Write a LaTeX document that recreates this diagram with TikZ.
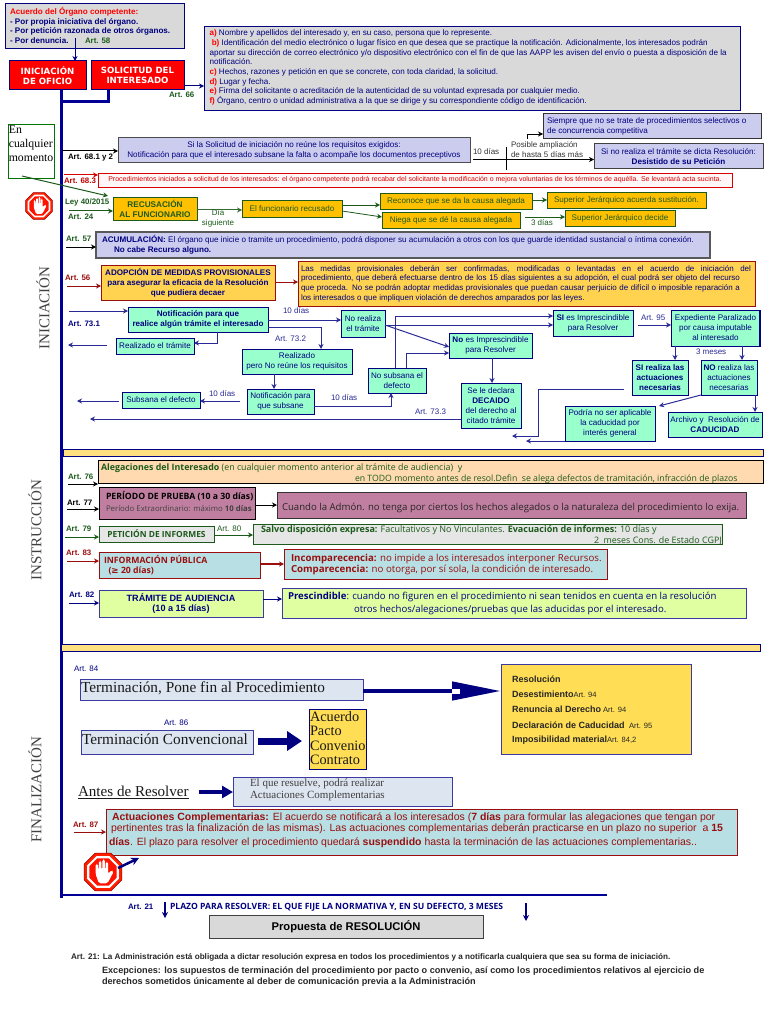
\documentclass[tikz,border=0pt]{standalone}
\usepackage{fontspec}
\setmainfont{Liberation Sans}
\newfontfamily\ser{Liberation Serif}
\newfontfamily\verd{DejaVu Sans}
\newfontfamily\tah{Open Sans}
\usetikzlibrary{arrows.meta}
\definecolor{nv}{HTML}{000080}
\definecolor{spn}{HTML}{000099}
\definecolor{blu}{HTML}{2A2A96}
\definecolor{lav}{HTML}{CCCCEE}
\definecolor{gr}{HTML}{D9D9D9}
\definecolor{dg}{HTML}{1C5A1C}
\definecolor{dr}{HTML}{990F0F}
\definecolor{mint}{HTML}{99FFCC}
\definecolor{amb}{HTML}{FFC000}
\definecolor{prov}{HTML}{FFD34F}
\definecolor{peach}{HTML}{FFDAB0}
\definecolor{mau}{HTML}{C07FA0}
\definecolor{teal2}{HTML}{B8E0E4}
\definecolor{lime2}{HTML}{E0FFA0}
\definecolor{ybar}{HTML}{FFE080}
\definecolor{tb}{HTML}{DDE5F0}
\definecolor{yel}{HTML}{FFDD55}
\definecolor{gl}{HTML}{E6E6E6}
\definecolor{bd}{HTML}{3A3AA0}
\newcommand{\fz}[2]{\fontsize{#1}{#2}\selectfont}
\newcommand{\bxn}[7]{\pgfmathsetmacro\bW{#5-#3}\pgfmathsetmacro\bH{#6-#4}%
  \node[anchor=north west,outer sep=0pt,inner sep=0pt,align=center,minimum width=\bW pt,minimum height=\bH pt,#2] (#1) at (#3,#4) {#7};}
\newcommand{\lb}[5]{\node[anchor=west,inner sep=0pt,outer sep=0pt,align=left,#2] (#1) at (#3,#4) {#5};}
\newcommand{\stopsign}[3]{%
 \begin{scope}[shift={(#1,#2)},x=#3pt,y=#3pt]
  \fill[draw=red!60!black,fill=red!75!orange,line width=.5pt] (22.5:1) -- (67.5:1) -- (112.5:1) -- (157.5:1) -- (202.5:1) -- (247.5:1) -- (292.5:1) -- (337.5:1) -- cycle;
  \fill[white] (22.5:.84) -- (67.5:.84) -- (112.5:.84) -- (157.5:.84) -- (202.5:.84) -- (247.5:.84) -- (292.5:.84) -- (337.5:.84) -- cycle;
  \fill[red!85!orange] (22.5:.72) -- (67.5:.72) -- (112.5:.72) -- (157.5:.72) -- (202.5:.72) -- (247.5:.72) -- (292.5:.72) -- (337.5:.72) -- cycle;
  \fill[white,rounded corners=.08pt*#3] (-.36,-.1) -- (-.36,.4) -- (-.24,.4) -- (-.24,.1) -- (-.2,.1) -- (-.2,.55) -- (-.08,.55) -- (-.08,.12) -- (-.03,.12) -- (-.03,.62) -- (.09,.62) -- (.09,.12) -- (.13,.12) -- (.13,.5) -- (.25,.5) -- (.25,-.1) -- (.42,.1) -- (.52,.02) -- (.22,-.55) -- (-.2,-.55) -- cycle;
 \end{scope}}
\tikzset{
 ar/.style={-{Stealth[length=5pt,width=5pt]},line width=1pt},
 fb/.style={draw=nv,line width=.9pt,fill=#1},
 art/.style={font=\fz{7.9}{9}\bfseries,text=#1},
 mb/.style={draw=nv,line width=.9pt,fill=mint,text=nv,font=\fz{8.1}{10}},
 tx/.style={font=\fz{8.1}{9.7},text=nv},
 sm/.style={font=\fz{8}{9},text=#1}
}
\begin{document}
\begin{tikzpicture}[x=1pt,y=-1pt]
\useasboundingbox (0,0) rectangle (768,1024);
% top
\bxn{acuerdo}{fb=gr}{5}{3}{184}{48}{}
\lb{acuerdot}{font=\fz{8.1}{9.7}\bfseries,text=nv}{10}{25.5}{\textcolor{red}{Acuerdo del Órgano competente:}\\- Por propia iniciativa del órgano.\\- Por petición razonada de otros órganos.\\- Por denuncia.}
\lb{a58}{art=dg}{85}{41}{Art. 58}
\bxn{ini}{draw=nv,line width=1pt,fill=red,text=white,font=\fz{8.6}{10}\verd\bfseries}{9}{61}{86}{90}{INICIACIÓN\\DE OFICIO}
\bxn{sol}{draw=nv,line width=1pt,fill=red,text=white,font=\fz{8.6}{10}\verd\bfseries}{91}{61}{184}{90}{SOLICITUD DEL\\INTERESADO}
\coordinate (acs) at (75,38);
\draw[ar,nv] (acs) -- (ini.north -| acs);
\bxn{req}{fb=gr}{204}{26}{740}{110}{}
\lb{reqt}{tx}{209.5}{67.5}{\textcolor{red}{\bfseries a)} Nombre y apellidos del interesado y, en su caso, persona que lo represente.\\
\ \textcolor{red}{\bfseries b)} Identificación del medio electrónico o lugar físico en que desea que se practique la notificación. Adicionalmente, los interesados podrán\\
aportar su dirección de correo electrónico y/o dispositivo electrónico con el fin de que las AAPP les avisen del envío o puesta a disposición de la\\
notificación.\\
\textcolor{red}{\bfseries c)} Hechos, razones y petición en que se concrete, con toda claridad, la solicitud.\\
\textcolor{red}{\bfseries d)} Lugar y fecha.\\
\textcolor{red}{\bfseries e)} Firma del solicitante o acreditación de la autenticidad de su voluntad expresada por cualquier medio.\\
\textcolor{red}{\bfseries f)} Órgano, centro o unidad administrativa a la que se dirige y su correspondiente código de identificación.}
\draw[ar,nv] (sol.east |- 0,86) -- (req.west |- 0,86);
\lb{a66}{art=dg}{169}{95}{Art. 66}
% spine
\coordinate (spe) at (61,898);
\coordinate (lineE) at (607,895);
\draw[spn,line width=3pt] (ini.south -| spe) -- (spe);
\draw[spn,line width=3pt] (sol.south -| 108,0) -- (108,102) -- (61,102);
\draw[spn,line width=2.5pt] (spe |- lineE) -- (lineE);
% cualquier
\bxn{cual}{draw=green!45!black,line width=.7pt,fill=white}{8}{124}{54}{178}{}
\lb{cualt}{font=\ser\fz{11.8}{13.7}}{8.8}{143.5}{En\\cualquier\\momento}
\coordinate (cs) at (22,176);
\draw[dg,ar] (cs) -- (108,196);
% 68
\bxn{s68}{draw=black!70,line width=1pt,fill=lav,text=nv,font=\fz{8.1}{10}}{118}{138}{470}{163}{Si la Solicitud de iniciación no reúne los requisitos exigidos:\\Notificación para que el interesado subsane la falta o acompañe los documentos preceptivos}
\coordinate (p68) at (62,151);
\draw[ar,black] (p68) -- (s68.west |- p68);
\lb{a68}{art=black}{68}{158}{Art. 68.1 y 2}
\lb{d10a}{sm=black!80}{473}{152}{10 días}
\bxn{desis}{draw=black!75,line width=1pt,fill=lav,text=nv,font=\fz{8.1}{10}}{594}{144}{763}{169}{Si no realiza el trámite se dicta Resolución:\\\textbf{Desistido de su Petición}}
\bxn{siemp}{draw=black!80,line width=1pt,fill=lav}{543}{114}{761}{139}{}
\lb{siempt}{font=\fz{8.1}{9.2},text=nv}{547}{126.5}{Siempre que no se trate de procedimientos selectivos o\\de concurrencia competitiva}
\coordinate (l10) at (473,159.5);
\draw[black,ar,line width=.8pt] (l10) -- (desis.west |- l10);
\draw[black,line width=.8pt] (506,147) -- (506,170);
\coordinate (pel) at (527,139);
\draw[black,ar,line width=.8pt] (pel) -- (527,134) -- (siemp.west |- 0,134);
\lb{posi}{font=\fz{8}{10},text=black!80}{511}{150}{Posible ampliación\\de hasta 5 días más}
% 68.3
\bxn{r68}{draw=red!85!black,line width=.8pt,fill=red!3,text=red!85!black,font=\fz{7}{8}}{98}{173}{732}{187}{Procedimientos iniciados a solicitud de los interesados: el órgano competente podrá recabar del solicitante la modificación o mejora voluntarias de los términos de aquélla. Se levantará acta sucinta.}
\coordinate (pr68) at (64,175);
\draw[ar,red!85!black] (pr68) -- (r68.west |- pr68);
\lb{a683}{art=red!75!black}{64}{181}{Art. 68.3}
\stopsign{39}{206}{14.5}
% recusacion
\lb{ley}{art=dg}{65}{202}{Ley 40/2015}
\lb{a24}{art=dg}{68}{217}{Art. 24}
\bxn{recus}{draw=dg,line width=.9pt,fill=amb,text=dg,font=\fz{8.2}{10}\bfseries}{113}{197}{197}{220}{RECUSACIÓN\\AL FUNCIONARIO}
\coordinate (p24) at (69,211);
\draw[ar,dg] (p24) -- (recus.west |- p24);
\bxn{frec}{draw=dg,line width=.9pt,fill=amb,text=dg,font=\fz{8.1}{10}}{242}{200}{342}{217}{El funcionario recusado}
\draw[ar,dg!90] (recus.east |- 0,210) -- (frec.west |- 0,210);
\node[font=\fz{8}{9.5},text=dg,align=center,inner sep=0pt] (diasig) at (218,218.5) {Día\\siguiente};
\bxn{recon}{draw=dg,line width=.9pt,fill=amb,text=dg,font=\fz{8.1}{10}}{380}{193}{532}{209}{Reconoce que se da la causa alegada}
\bxn{niega}{draw=dg,line width=.9pt,fill=amb,text=dg,font=\fz{8.1}{10}}{382}{212}{520}{228}{Niega que se dé la causa alegada}
\bxn{supa}{draw=dg,line width=.9pt,fill=amb,text=dg,font=\fz{8.1}{10}}{547}{192}{706}{208}{Superior Jerárquico acuerda sustitución.}
\bxn{supd}{draw=dg,line width=.9pt,fill=amb,text=dg,font=\fz{8.1}{10}}{565}{210}{675}{226}{Superior Jerárquico decide}
\draw[ar,dg,line width=.8pt] (frec.east |- 0,205) -- (recon.west |- 0,205);
\draw[ar,dg,line width=.8pt] (frec.east |- 0,211) -- (niega.west |- 0,217);
\draw[ar,dg,line width=.8pt] (recon.east |- 0,200) -- (supa.west |- 0,200);
\coordinate (p3d) at (525,217);
\draw[ar,dg,line width=.8pt] (p3d) -- (supd.west |- p3d);
\lb{d3}{sm=dg}{531}{223}{3 días}
% acumulacion
\lb{a57}{art=dg}{66}{239}{Art. 57}
\bxn{acum}{draw=black!65,line width=1.2pt,fill=lav}{96}{232}{710}{258}{}
\lb{acumt}{font=\fz{8.1}{10},text=nv}{102}{245}{\textbf{ACUMULACIÓN:} El órgano que inicie o tramite un procedimiento, podrá disponer su acumulación a otros con los que guarde identidad sustancial o íntima conexión.\\\hspace*{12pt}\textbf{No cabe Recurso alguno.}}
\coordinate (p57) at (66,247);
\draw[ar,black] (p57) -- (acum.west |- p57);
% medidas
\lb{a56}{art=dr}{65}{278}{Art. 56}
\bxn{adop}{draw=dr,line width=.9pt,fill=prov,text=nv,font=\fz{8.1}{10}\bfseries}{101}{265}{275}{300}{ADOPCIÓN DE MEDIDAS PROVISIONALES\\para asegurar la eficacia de la Resolución\\que pudiera decaer}
\coordinate (p56) at (67,286);
\draw[ar,dr] (p56) -- (adop.west |- p56);
\bxn{medt}{draw=dr,line width=.9pt,fill=prov}{298}{261}{755}{306}{}
\lb{medtt}{font=\fz{8}{9.7},text=nv}{301}{283.5}{\makebox[450pt][s]{Las medidas provisionales deberán ser confirmadas, modificadas o levantadas en el acuerdo de iniciación del}\\
\makebox[439pt][s]{procedimiento, que deberá efectuarse dentro de los 15 días siguientes a su adopción, el cual podrá ser objeto del recurso}\\
\makebox[439pt][s]{que proceda. No se podrán adoptar medidas provisionales que puedan causar perjuicio de difícil o imposible reparación a}\\
los interesados o que impliquen violación de derechos amparados por las leyes.}
\draw[ar,dr] (adop.east |- 0,282) -- (medt.west |- 0,282);
% tramite
\bxn{noti}{mb,font=\fz{8.1}{10}\bfseries}{128}{307}{268}{332}{Notificación para que\\realice algún trámite el interesado}
\coordinate (p731) at (69,311);
\draw[ar,blu] (p731) -- (noti.west |- p731);
\lb{a731}{art=nv}{68}{324}{Art. 73.1}
\bxn{reali}{mb}{116}{338}{194}{354}{Realizado el trámite}
\draw[ar,blu] (217,332) -- (217,343) -- (reali.east |- 0,343);
\coordinate (prl) at (107,345);\coordinate (prle) at (68,345);
\draw[ar,blu] (prl) -- (prle);
\bxn{nore}{mb}{341}{310}{385}{337}{No realiza\\el trámite}
\draw[ar,blu] (noti.east |- 0,320) -- (nore.west |- 0,320);
\lb{d10b}{sm=blu}{283}{311}{10 días}
\lb{a732}{sm=blu}{275}{339}{Art. 73.2}
\bxn{rnr}{mb}{242}{349}{352}{374}{Realizado\\pero No reúne los requisitos}
\draw[ar,blu] (noti.east |- 0,327) -- (321,327) -- (rnr.north -| 321,0);
\bxn{nsub}{mb}{247}{389}{314}{414}{Notificación para\\que subsane}
\draw[ar,blu] (rnr.south -| 274,0) -- (nsub.north -| 274,0);
\bxn{subd}{mb}{122}{392}{200}{408}{Subsana el defecto}
\coordinate (pns) at (240,401);
\draw[ar,blu] (pns) -- (subd.east |- pns);
\lb{d10c}{sm=blu}{209}{394}{10 días}
\coordinate (psb) at (119,401);\coordinate (psbe) at (77,401);
\draw[ar,blu] (psb) -- (psbe);
\bxn{nosub}{mb}{368}{368}{426}{393}{No subsana el\\defecto}
\draw[ar,blu] (nsub.east |- 0,406) -- (391,406) -- (nosub.south -| 391,0);
\lb{d10d}{sm=blu}{331}{398}{10 días}
\bxn{sies}{mb}{553}{310}{633}{336}{\textbf{SI} es Imprescindible\\para Resolver}
\bxn{noes}{mb}{449}{333}{532}{358}{\textbf{No} es Imprescindible\\para Resolver}
\draw[ar,blu] (nore.east |- 0,325) -- (sies.west |- 0,325);
\draw[ar,blu] (nore.east |- 0,325) -- (noes.west |- 0,347);
\draw[ar,blu] (nosub.north -| 395,0) -- (395,316) -- (sies.west |- 0,316);
\draw[ar,blu] (nosub.north -| 406,0) -- (406,353) -- (noes.west |- 0,353);
\bxn{decai}{mb}{461}{383}{521}{428}{Se le declara\\\textbf{DECAIDO}\\del derecho al\\citado trámite}
\draw[ar,blu] (noes.south -| 492,0) -- (decai.north -| 492,0);
\coordinate (e733) at (90,419);
\draw[ar,blu] (decai.west |- e733) -- (e733);
\lb{a733}{sm=blu}{415}{412}{Art. 73.3}
\bxn{expe}{mb}{671}{310}{760}{346}{Expediente Paralizado\\por causa imputable\\al interesado}
\draw[nv,line width=1.6pt] (expe.north east) -- (expe.south east);
\coordinate (pe95) at (638,325);
\draw[ar,blu] (pe95) -- (expe.west |- pe95);
\lb{a95}{sm=blu}{641}{318}{Art. 95}
\bxn{sirea}{mb,font=\fz{8.1}{10}\bfseries}{632}{360}{688}{395}{SI realiza las\\actuaciones\\necesarias}
\bxn{norea}{mb}{701}{360}{757}{395}{\textbf{NO} realiza las\\actuaciones\\necesarias}
\draw[ar,blu] (expe.south -| 675,0) -- (sirea.north -| 675,0);
\draw[ar,blu] (expe.south -| 742,0) -- (norea.north -| 742,0);
\lb{m3}{sm=blu}{696}{352}{3 meses}
\bxn{podr}{mb}{565}{406}{655}{441}{Podría no ser aplicable\\la caducidad por\\interés general}
\bxn{arch}{mb}{668}{412}{762}{437}{Archivo y\ \ Resolución de\\\textbf{CADUCIDAD}}
\draw[ar,blu] (norea.south -| 701,0) -- (podr.north -| 659,0);
\draw[ar,blu] (norea.south -| 755,0) -- (arch.north -| 755,0);
\coordinate (pp1) at (624,389);\coordinate (pp2) at (512,436);
\draw[ar,blu] (pp1) -- (538,389) -- (538,436) -- (pp2);
\coordinate (pp3) at (526,441);
\draw[ar,blu] (podr.south west) -- (pp3);
% bars
\bxn{bar1}{draw=nv,line width=.8pt,fill=ybar}{63}{449}{763}{456}{}
\bxn{bar2}{draw=nv,line width=.8pt,fill=ybar}{61}{644}{760}{651}{}
% instruccion
\bxn{aleg}{draw=black,line width=.8pt,fill=peach}{98}{460}{763}{483}{}
\lb{alegt}{font=\tah\fz{8.85}{9},text=dg}{101}{468}{\textbf{Alegaciones del Interesado} (en cualquier momento anterior al trámite de audiencia)\ \ y}
\lb{alegu}{font=\tah\fz{8.7}{9},text=dg}{355}{479}{en TODO momento antes de resol.Defin\ \ se alega defectos de tramitación, infracción de plazos}
\lb{a76}{art=dg}{68}{477}{Art. 76}
\coordinate (p76) at (68,484);
\draw[ar,black] (p76) -- (aleg.west |- p76);
\bxn{peri}{draw=black,line width=.9pt,fill=mau}{99}{487}{255}{519}{}
\lb{perit}{font=\tah\fz{8.7}{9}\bfseries,text=black}{106}{496}{PERÍODO DE PRUEBA (10 a 30 días)}
\lb{periu}{font=\tah\fz{7.8}{9},text=black!75}{106}{509}{Período Extraordinario: máximo \textbf{10 días}}
\lb{a77}{art=black}{67}{503}{Art. 77}
\coordinate (p77) at (67,509);
\draw[ar,black] (p77) -- (peri.west |- p77);
\bxn{cuan}{draw=black!80,line width=.9pt,fill=mau}{277}{492}{746}{518}{}
\lb{cuant}{font=\tah\fz{9.6}{11},text=black!85}{282}{508}{Cuando la Admón. no tenga por ciertos los hechos alegados o la naturaleza del procedimiento lo exija.}
\draw[ar,black] (peri.east |- 0,505) -- (cuan.west |- 0,505);
\lb{a79}{art=dg}{66}{529}{Art. 79}
\bxn{peti}{draw=dg,line width=.9pt,fill=gl,text=dg,font=\tah\fz{8.4}{9}\bfseries}{99}{526}{214}{542}{PETICIÓN DE INFORMES}
\coordinate (p79) at (65,537);
\draw[ar,dg] (p79) -- (peti.west |- p79);
\lb{a80}{sm=dg}{217}{529}{Art. 80}
\bxn{salv}{draw=dg,line width=.9pt,fill=gl}{253}{524}{722}{544}{}
\lb{salvt}{font=\tah\fz{9}{9},text=dg}{261}{530}{\textbf{Salvo disposición expresa:} Facultativos y No Vinculantes. \textbf{Evacuación de informes:} 10 días y}
\lb{salvu}{font=\tah\fz{8.9}{9},text=dg}{594}{541}{2\ \ meses Cons. de Estado CGPJ}
\draw[ar,dg] (peti.east |- 0,535) -- (salv.west |- 0,535);
\lb{a83}{art=dr}{66}{553}{Art. 83}
\bxn{info}{draw=dr,line width=.9pt,fill=teal2}{99}{552}{260}{578}{}
\lb{infot}{font=\tah\fz{8.7}{10}\bfseries,text=dr,}{104}{565}{INFORMACIÓN PÚBLICA\\\ \ ({\verd ≥} 20 días)}
\coordinate (p83) at (67,561);
\draw[ar,dr] (p83) -- (info.west |- p83);
\bxn{inco}{draw=dr,line width=.9pt,fill=teal2}{284}{549}{607}{579}{}
\lb{incot}{font=\tah\fz{9.7}{9.5},text=dr}{291}{564.5}{\textbf{Incomparecencia:} no impide a los interesados interponer Recursos.\\\textbf{Comparecencia:} no otorga, por sí sola, la condición de interesado.}
\draw[ar,dr,line width=1.2pt] (info.east |- 0,564) -- (inco.west |- 0,564);
\lb{a82}{art=nv}{69}{595}{Art. 82}
\bxn{trau}{draw=bd,line width=.9pt,fill=lime2,text=nv,font=\fz{9.1}{10.5}\bfseries}{99}{590}{263}{617}{TRÁMITE DE AUDIENCIA\\(10 a 15 días)}
\coordinate (p82) at (69,603);
\draw[ar,nv] (p82) -- (trau.west |- p82);
\bxn{pres}{draw=bd,line width=.9pt,fill=lime2}{282}{588}{746}{618}{}
\lb{prest}{font=\tah\fz{9.6}{10},text=nv}{288}{597}{\textbf{Prescindible}: cuando no figuren en el procedimiento ni sean tenidos en cuenta en la resolución}
\lb{presu}{font=\tah\fz{9.6}{10},text=nv}{354}{610}{otros hechos/alegaciones/pruebas que las aducidas por el interesado.}
\draw[ar,nv] (trau.east |- 0,599) -- (pres.west |- 0,599);
% finalizacion
\lb{a84}{font=\fz{8}{9},text=nv}{74}{669}{Art. 84}
\bxn{term}{draw=bd,line width=.9pt,fill=tb}{80}{679}{363}{700}{}
\lb{termt}{font=\ser\fz{15.3}{16},text=black!90}{81}{688.5}{Terminación, Pone fin al Procedimiento}
\bxn{resol}{draw=bd,line width=.9pt,fill=yel}{501}{664}{691}{754}{}
\draw[nv,line width=4.5pt,-{Triangle[length=49pt,width=18pt]}] (term.east |- 0,691) -- (resol.west |- 0,691);
\fill[white] (452,688.5) rectangle (460,693.5);
\lb{rs1}{font=\fz{9}{10}\bfseries,text=black!85}{512}{679}{Resolución}
\lb{rs2}{font=\fz{9}{10}\bfseries,text=black!85}{512}{694}{Desestimiento{\mdseries\fz{7.6}{9}Art. 94}}
\lb{rs3}{font=\fz{9}{10}\bfseries,text=black!85}{512}{709}{Renuncia al Derecho{\mdseries\fz{7.6}{9} Art. 94}}
\lb{rs4}{font=\fz{9}{10}\bfseries,text=black!85}{512}{725}{Declaración de Caducidad {\mdseries\fz{7.6}{9} Art. 95}}
\lb{rs5}{font=\fz{9}{10}\bfseries,text=black!85}{512}{740}{Imposibilidad material{\mdseries\fz{7.6}{9}Art. 84,2}}
\lb{a86}{font=\fz{8}{9},text=nv}{164}{723}{Art. 86}
\bxn{tcon}{draw=bd,line width=1pt,fill=tb}{81}{730}{253}{754}{}
\lb{tcont}{font=\ser\fz{15.3}{16},text=black!90}{82}{739.5}{Terminación Convencional}
\bxn{acue}{draw=nv,line width=1pt,fill=yel}{309}{709}{366}{769}{}
\lb{acuet}{font=\ser\fz{14.3}{14.5},text=black!90}{310}{738}{Acuerdo\\Pacto\\Convenio\\Contrato}
\coordinate (ptc) at (258,741);\coordinate (ptce) at (302,741);
\draw[nv,line width=7pt,-{Triangle[length=15pt,width=19pt]}] (ptc) -- (ptce);
\lb{antes}{font=\ser\fz{15.1}{16},text=black!90}{78}{792}{\underline{Antes de Resolver}}
\bxn{elqu}{draw=bd,line width=1pt,fill=tb}{233}{777}{452}{806}{}
\lb{elqut}{font=\ser\fz{11}{12},text=black!75}{250}{790}{El que resuelve, podrá realizar\\Actuaciones Complementarias}
\coordinate (pan) at (199,792);
\draw[nv,line width=4pt,-{Triangle[length=11pt,width=12pt]}] (pan) -- (elqu.west |- pan);
\lb{a87}{art=dr}{73}{825}{Art. 87}
\bxn{acom}{draw=dr,line width=1pt,fill=teal2}{106}{809}{737}{855}{}
\coordinate (p87) at (74,832);
\draw[ar,dr] (p87) -- (acom.west |- p87);
\lb{acom1}{font=\fz{10.5}{11},text=dr}{112}{818}{\textbf{Actuaciones Complementarias:} El acuerdo se notificará a los interesados (\textbf{7 días} para formular las alegaciones que tengan por}
\lb{acom2}{font=\fz{10.5}{11},text=dr}{111}{829}{pertinentes tras la finalización de las mismas). Las actuaciones complementarias deberán practicarse en un plazo no superior\ \ a \textbf{15}}
\lb{acom3}{font=\fz{10.5}{11},text=dr}{109}{843}{\textbf{días}. El plazo para resolver el procedimiento quedará \textbf{suspendido} hasta la terminación de las actuaciones complementarias..}
\stopsign{103}{872}{20.5}
\coordinate (pd1) at (118,868);\coordinate (pd2) at (139,858);
\draw[nv,line width=2.5pt,-{Stealth[length=8pt,width=8pt]}] (pd1) -- (pd2);
% bottom
\lb{a21}{font=\fz{7.9}{9}\bfseries,text=nv}{128}{907}{Art. 21}
\coordinate (dn1) at (165,902);\coordinate (dn1e) at (165,918);
\draw[nv,line width=1.5pt,-{Stealth[length=6pt,width=6pt]}] (dn1) -- (dn1e);
\lb{plazo}{font=\tah\fz{8.6}{9}\bfseries,text=nv}{170}{907}{PLAZO PARA RESOLVER: EL QUE FIJE LA NORMATIVA Y, EN SU DEFECTO, 3 MESES}
\coordinate (dn2) at (526,903);\coordinate (dn2e) at (526,921);
\draw[nv,line width=1.5pt,-{Stealth[length=6pt,width=6pt]}] (dn2) -- (dn2e);
\bxn{prop}{draw=black!75,line width=.9pt,fill=gr,text=black,font=\fz{11.2}{12}\bfseries}{209}{915}{483}{938}{Propuesta de RESOLUCIÓN}
\lb{f1}{font=\fz{8.15}{9}\bfseries,text=black!85}{71}{957}{Art. 21: La Administración está obligada a dictar resolución expresa en todos los procedimientos y a notificarla cualquiera que sea su forma de iniciación.}
\lb{f2}{font=\fz{9.15}{11}\bfseries,text=black!85}{102}{976.5}{Excepciones: los supuestos de terminación del procedimiento por pacto o convenio, así como los procedimientos relativos al ejercicio de\\derechos sometidos únicamente al deber de comunicación previa a la Administración}
% section labels
\node[rotate=90,font=\ser\fz{15}{16},text=black!75,inner sep=0pt] (sec1) at (43,308) {INICIACIÓN};
\node[rotate=90,font=\ser\fz{15}{16},text=black!75,inner sep=0pt] (sec2) at (35,530) {INSTRUCCIÓN};
\node[rotate=90,font=\ser\fz{15}{16},text=black!75,inner sep=0pt] (sec3) at (35,790) {FINALIZACIÓN};
\end{tikzpicture}
\end{document}
